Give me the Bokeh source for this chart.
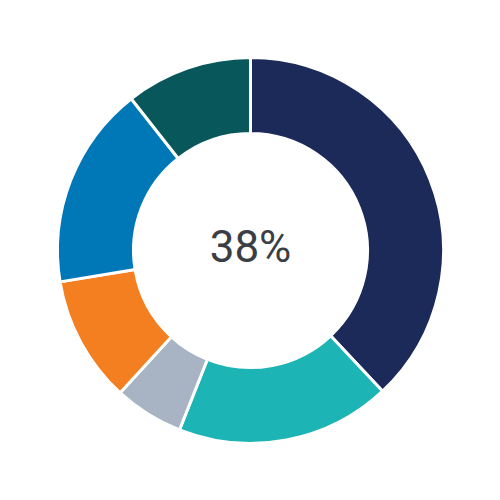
from math import pi

from bokeh.plotting import figure
from bokeh.models import ColumnDataSource, Range1d
from bokeh.core.properties import value
from bokeh.embed import file_html
from bokeh.resources import INLINE

# share of each slice, clockwise from 12 o'clock
segments = ["navy", "teal", "gray", "orange", "blue", "green"]
shares = [38.0, 18.0, 5.8, 10.6, 17.0, 10.6]
colors = ["#1c2a5a", "#1cb4b4", "#a8b4c4", "#f47f20", "#0078b8", "#08575a"]
center_label = "38%"

# turn shares into wedge angles (bokeh goes anticlockwise from +x)
total = sum(shares)
starts, ends = [], []
cum = 0.0
for s in shares:
    a0 = pi / 2 - 2 * pi * cum / total
    cum += s
    a1 = pi / 2 - 2 * pi * cum / total
    starts.append(a1)
    ends.append(a0)

source = ColumnDataSource(dict(
    segment=segments,
    share=shares,
    start=starts,
    end=ends,
    color=colors,
))

# ring centre sits at (250, 250) of the photographed page
p = figure(
    width=484,
    height=484,
    x_range=Range1d(-250, 234),
    y_range=Range1d(-234, 250),
    output_backend="svg",
    toolbar_location=None,
    min_border=0,
)
p.axis.visible = False
p.grid.visible = False
p.outline_line_color = None

p.annular_wedge(
    x=0,
    y=0,
    inner_radius=117,
    outer_radius=193,
    start_angle="start",
    end_angle="end",
    fill_color="color",
    line_color="white",
    line_width=3,
    source=source,
)

p.text(
    x=[0],
    y=[4],
    text=[center_label],
    text_align="center",
    text_baseline="alphabetic",
    text_font=value("Roboto"),
    text_font_size="44px",
    text_color="#3b3f45",
)

open("out.html", "w").write(file_html(p, INLINE))
